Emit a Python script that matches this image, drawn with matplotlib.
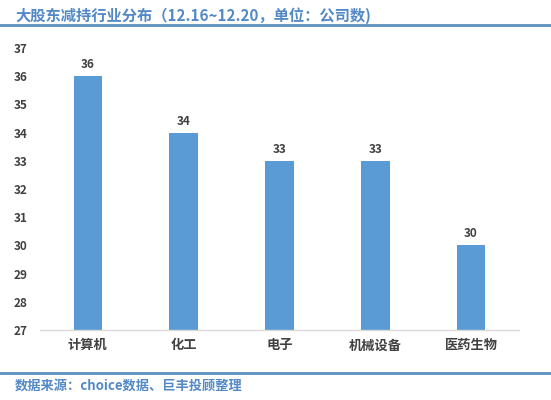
import matplotlib
matplotlib.use("Agg")
import matplotlib.pyplot as plt
from matplotlib.lines import Line2D

plt.rcParams['font.family'] = ['Noto Sans CJK SC', 'DejaVu Sans']

categories = ['计算机', '化工', '电子', '机械设备', '医药生物']
values = [36, 34, 33, 33, 30]
yticks = list(range(27, 38))

title = '大股东减持行业分布（12.16~12.20，单位：公司数)'
source = '数据来源：choice数据、巨丰投顾整理'

blue = '#5289C6'
bar_color = '#5B9BD5'
text_color = '#404040'

fig = plt.figure(figsize=(5.51, 4.0), dpi=100)
ax = fig.add_axes([40 / 551, 70 / 400, 479 / 551, 282 / 400])

x = range(len(categories))
bars = ax.bar(x, values, width=0.30, color=bar_color, zorder=2)
for i, v in enumerate(values):
    ax.text(i, v + 0.18, str(v), ha='center', va='bottom', fontsize=8.5,
            fontweight='bold', color=text_color)

ax.set_xlim(-0.5, len(categories) - 0.5)
ax.set_ylim(27, 37)
ax.set_yticks(yticks)
ax.set_yticklabels([str(t) for t in yticks], fontsize=8.5, fontweight='bold', color=text_color)
ax.set_xticks(list(x))
ax.set_xticklabels(categories, fontsize=9.5, fontweight='bold', color=text_color)
ax.tick_params(axis='both', length=0)
ax.tick_params(axis='y', pad=9)
ax.tick_params(axis='x', pad=6)

for s in ['top', 'right', 'left']:
    ax.spines[s].set_visible(False)
ax.spines['bottom'].set_color('#D9D9D9')
ax.spines['bottom'].set_linewidth(1)

# title and separators
fig.text(15 / 551, 1 - 16 / 400, title, fontsize=11, fontweight='bold', color=blue,
         ha='left', va='center')
fig.add_artist(Line2D([0, 1], [1 - 25 / 400, 1 - 25 / 400], color='#5B8FC0', lw=2))
fig.add_artist(Line2D([0, 1], [1 - 373 / 400, 1 - 373 / 400], color='#5B8FC0', lw=2))
fig.text(15 / 551, 1 - 386 / 400, source, fontsize=9.5, fontweight='bold', color=blue,
         ha='left', va='center')

fig.savefig('out.png', dpi=100)
